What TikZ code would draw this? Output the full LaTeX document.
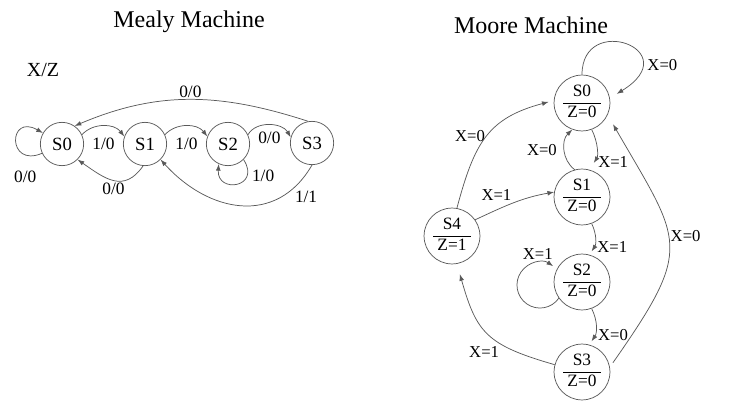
\documentclass[tikz,border=0pt]{standalone}
\usepackage{fontspec}
\setmainfont{Liberation Serif}
\usetikzlibrary{arrows.meta}
\tikzset{
  >={Latex[length=5pt,width=3.6pt]},
  fa/.style={->,auto,draw=black!65,line width=0.55pt},
  mly/.style={circle,draw=black!65,line width=0.55pt,minimum size=32.5pt,
    inner sep=0pt,font=\fontsize{14}{16}\selectfont},
  mre/.style={circle,draw=black!65,line width=0.55pt,minimum size=37.5pt,
    inner sep=0pt,font=\fontsize{13}{15.6}\selectfont},
  mlylbl/.style={font=\fontsize{13}{15}\selectfont,inner sep=1.5pt},
  mrelbl/.style={font=\fontsize{12.5}{15}\selectfont,inner sep=1.5pt},
  ttl/.style={font=\fontsize{18}{22}\selectfont},
}
\newcommand{\outlbl}[2]{\begin{tabular}{@{\hspace{3pt}}c@{\hspace{3pt}}}#1\\\hline #2\end{tabular}}

\begin{document}
\begin{tikzpicture}[fa,x=0.75pt,y=-0.75pt]
  \useasboundingbox (0,0) rectangle (747,403);
  % titles
  \node[ttl] (tmly) at (189,22) {Mealy Machine};
  \node[ttl] (tmre) at (531,25) {Moore Machine};
  \node[font=\fontsize{15}{18}\selectfont] (xz) at (43,70) {X/Z};
  % Mealy machine
  \node[mly] (m0) at (62,144) {S0};
  \node[mly] (m1) at (145,144) {S1};
  \node[mly] (m2) at (228,144) {S2};
  \node[mly] (m3) at (312,143) {S3};
  \draw[nodes=mlylbl] (m0.205) .. controls +(-35,15) and +(-35,-20) .. (m0.150)
    node[pos=0.2,below=10pt] {0/0};
  \path[nodes=mlylbl]
    (m0.25) edge[bend left=50] node[below=7pt] {1/0} (m1.160)
    (m1.25) edge[bend left=50] node[below=7pt] {1/0} (m2.160)
    (m2.25) edge[out=60,in=120] node[below=3pt] {0/0} (m3.165)
    (m1.-95) edge[out=-125,in=-35,looseness=1.3] node[below] {0/0} (m0.-45)
    (m3.-90) edge[out=-120,in=-48,looseness=1.2] node[pos=0.16,below right] {1/1} (m1.-45)
    (m3.100) edge[out=162,in=23] node[above] {0/0} (m0.55);
  \draw[nodes=mlylbl] (m2.-45) .. controls +(18,28) and +(-2,30) .. (m2.-115)
    node[pos=0.25,right=2pt] {1/0};
  % Moore machine
  \node[mre] (q0) at (582,103) {\outlbl{S0}{Z=0}};
  \node[mre] (q1) at (582,197) {\outlbl{S1}{Z=0}};
  \node[mre] (q2) at (582,282) {\outlbl{S2}{Z=0}};
  \node[mre] (q3) at (582,372) {\outlbl{S3}{Z=0}};
  \node[mre] (q4) at (452,236) {\outlbl{S4}{Z=1}};
  \draw[nodes=mrelbl,shorten >=6pt] (q0.90) .. controls +(0,-63) and +(78,-48) .. (q0.10)
    node[pos=0.75,right=5pt] {X=0};
  \path[nodes=mrelbl]
    (q0.-70) edge[bend left=30,shorten >=6pt] node[pos=0.6] {X=1} (q1.75)
    (q1.105) edge[bend left=50] node[left=4pt] {X=0} (q0.-110)
    (q4.35) edge[out=25,in=190] node {X=1} (q1.170)
    (q4.80) edge[out=75,in=195,looseness=1.2,shorten >=4pt] node[left] {X=0} (q0.175)
    (q1.-70) edge[bend left=30,shorten >=3pt] node {X=1} (q2.75)
    (q2.-70) edge[bend left=30,shorten >=3pt] node {X=0} (q3.75)
    (q3.165) edge[out=164,in=-74,looseness=1.3,shorten >=8pt] node[pos=0.35] {X=1} (q4.-80)
    (q3.10) edge[out=55,in=-60,looseness=1.5,shorten <=4pt,shorten >=8pt]
      node[swap] {X=0} (q0.-25);
  \draw[nodes=mrelbl] (q2.215) arc[start angle=35,end angle=305,radius=23]
    node[pos=0.85,above] {X=1};
\end{tikzpicture}
\end{document}
